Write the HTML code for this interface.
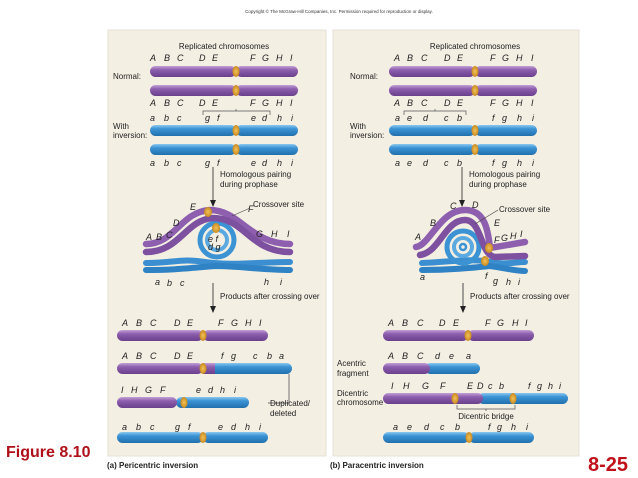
<!DOCTYPE html>
<html><head><meta charset="utf-8"><style>
html,body{margin:0;padding:0;background:#fff;}
svg{display:block;}
text{font-family:"Liberation Sans",sans-serif;}
.l{font-size:9px;font-style:italic;fill:#222;}
.t{font-size:8px;fill:#222;}
</style></head><body>
<svg width="638" height="478" viewBox="0 0 638 478" xmlns="http://www.w3.org/2000/svg">
<defs>
<linearGradient id="p" x1="0" y1="0" x2="0" y2="1"><stop offset="0" stop-color="#c3a0d6"/><stop offset="0.35" stop-color="#8d5fae"/><stop offset="1" stop-color="#6a3f8c"/></linearGradient>
<linearGradient id="b" x1="0" y1="0" x2="0" y2="1"><stop offset="0" stop-color="#8cc8f0"/><stop offset="0.35" stop-color="#3b93d4"/><stop offset="1" stop-color="#2170ad"/></linearGradient>
<radialGradient id="o"><stop offset="0" stop-color="#f2c25a"/><stop offset="1" stop-color="#c98a1e"/></radialGradient>
</defs>
<text x="339" y="13" font-size="4.5" text-anchor="middle" fill="#333">Copyright © The McGraw-Hill Companies, Inc. Permission required for reproduction or display.</text>
<rect x="108" y="30" width="218" height="426" fill="#f4efe3" stroke="#e6e0d4"/>
<rect x="333" y="30" width="246" height="426" fill="#f4efe3" stroke="#e6e0d4"/>

<!-- LEFT TOP -->
<text class="t" x="224" y="49" text-anchor="middle">Replicated chromosomes</text>
<text class="l" x="150" y="61">A</text><text class="l" x="164" y="61">B</text><text class="l" x="177" y="61">C</text><text class="l" x="199" y="61">D</text><text class="l" x="212" y="61">E</text><text class="l" x="250" y="61">F</text><text class="l" x="262" y="61">G</text><text class="l" x="276" y="61">H</text><text class="l" x="290" y="61">I</text>
<text class="t" x="113" y="79">Normal:</text>
<g><rect x="150" y="66" width="86" height="11" rx="5.5" fill="url(#p)"/><rect x="236" y="66" width="62" height="11" rx="5.5" fill="url(#p)"/><ellipse cx="236" cy="71.5" rx="3.5" ry="5.5" fill="url(#o)"/></g>
<g><rect x="150" y="85" width="86" height="11" rx="5.5" fill="url(#p)"/><rect x="236" y="85" width="62" height="11" rx="5.5" fill="url(#p)"/><ellipse cx="236" cy="90.5" rx="3.5" ry="5.5" fill="url(#o)"/></g>
<text class="l" x="150" y="106">A</text><text class="l" x="164" y="106">B</text><text class="l" x="177" y="106">C</text><text class="l" x="199" y="106">D</text><text class="l" x="212" y="106">E</text><text class="l" x="250" y="106">F</text><text class="l" x="262" y="106">G</text><text class="l" x="276" y="106">H</text><text class="l" x="290" y="106">I</text>
<path d="M203 115 V111 H270 V115 M236 111 V109" fill="none" stroke="#555" stroke-width="0.7"/>
<text class="l" x="150" y="121">a</text><text class="l" x="164" y="121">b</text><text class="l" x="177" y="121">c</text><text class="l" x="205" y="121">g</text><text class="l" x="217" y="121">f</text><text class="l" x="251" y="121">e</text><text class="l" x="262" y="121">d</text><text class="l" x="277" y="121">h</text><text class="l" x="291" y="121">i</text>
<text class="t" x="113" y="129">With</text><text class="t" x="113" y="138">inversion:</text>
<g><rect x="150" y="125" width="86" height="11" rx="5.5" fill="url(#b)"/><rect x="236" y="125" width="62" height="11" rx="5.5" fill="url(#b)"/><ellipse cx="236" cy="130.5" rx="3.5" ry="5.5" fill="url(#o)"/></g>
<g><rect x="150" y="144" width="86" height="11" rx="5.5" fill="url(#b)"/><rect x="236" y="144" width="62" height="11" rx="5.5" fill="url(#b)"/><ellipse cx="236" cy="149.5" rx="3.5" ry="5.5" fill="url(#o)"/></g>
<text class="l" x="150" y="166">a</text><text class="l" x="164" y="166">b</text><text class="l" x="177" y="166">c</text><text class="l" x="205" y="166">g</text><text class="l" x="217" y="166">f</text><text class="l" x="251" y="166">e</text><text class="l" x="262" y="166">d</text><text class="l" x="277" y="166">h</text><text class="l" x="291" y="166">i</text>
<line x1="213" y1="167" x2="213" y2="201" stroke="#222" stroke-width="0.8"/><path d="M210 200 L216 200 L213 207 Z" fill="#222"/>
<text class="t" x="220" y="177">Homologous pairing</text><text class="t" x="220" y="187">during prophase</text>

<!-- LEFT LOOP -->
<g fill="none" stroke-linecap="round">
<path d="M146 263 C175 263 180 258 205 262 C230 266 260 262 290 262" stroke="#3b8fd0" stroke-width="6"/>
<path d="M146 270 C175 270 190 268 215 266 C240 266 260 270 290 270" stroke="#2f82c4" stroke-width="6"/>
<circle cx="217" cy="240" r="17" stroke="#3b93d4" stroke-width="5"/>
<circle cx="217" cy="240" r="10" stroke="#5aa9e0" stroke-width="4"/>
<path d="M146 244 C175 244 180 212 210 210 C240 210 250 244 290 244" stroke="#8d5fae" stroke-width="6.5"/>
<path d="M146 252 C180 252 185 220 213 218 C245 218 250 252 290 252" stroke="#7e50a0" stroke-width="6.5"/>
</g>
<ellipse cx="208" cy="212" rx="4" ry="5" fill="url(#o)"/><ellipse cx="216" cy="228" rx="4" ry="5" fill="url(#o)"/>
<text class="l" x="190" y="210">E</text><text class="l" x="248" y="212">F</text><text class="l" x="173" y="226">D</text>
<text class="l" x="146" y="240">A</text><text class="l" x="156" y="240">B</text><text class="l" x="166" y="238">C</text>
<text class="l" x="256" y="237">G</text><text class="l" x="271" y="237">H</text><text class="l" x="287" y="237">I</text>
<text class="l" x="208" y="242" font-size="7">e f</text><text class="l" x="208" y="250" font-size="7">d g</text>
<text class="l" x="155" y="285">a</text><text class="l" x="167" y="286">b</text><text class="l" x="180" y="286">c</text><text class="l" x="264" y="285">h</text><text class="l" x="280" y="285">i</text>
<line x1="250" y1="208" x2="232" y2="216" stroke="#444" stroke-width="0.6"/>
<text class="t" x="253" y="207">Crossover site</text>

<line x1="213" y1="283" x2="213" y2="307" stroke="#222" stroke-width="0.8"/><path d="M210 306 L216 306 L213 313 Z" fill="#222"/>
<text class="t" x="220" y="299">Products after crossing over</text>

<!-- LEFT BOTTOM -->
<text class="l" x="122" y="326">A</text><text class="l" x="136" y="326">B</text><text class="l" x="150" y="326">C</text><text class="l" x="174" y="326">D</text><text class="l" x="187" y="326">E</text><text class="l" x="218" y="326">F</text><text class="l" x="231" y="326">G</text><text class="l" x="245" y="326">H</text><text class="l" x="259" y="326">I</text>
<g><rect x="117" y="330" width="86" height="11" rx="5.5" fill="url(#p)"/><rect x="203" y="330" width="65" height="11" rx="5.5" fill="url(#p)"/><ellipse cx="203" cy="335.5" rx="3.5" ry="5.5" fill="url(#o)"/></g>
<text class="l" x="122" y="359">A</text><text class="l" x="136" y="359">B</text><text class="l" x="150" y="359">C</text><text class="l" x="174" y="359">D</text><text class="l" x="187" y="359">E</text><text class="l" x="221" y="359">f</text><text class="l" x="231" y="359">g</text><text class="l" x="253" y="359">c</text><text class="l" x="267" y="359">b</text><text class="l" x="279" y="359">a</text>
<g><rect x="210" y="363" width="82" height="11" rx="5.5" fill="url(#b)"/><rect x="117" y="363" width="86" height="11" rx="5.5" fill="url(#p)"/><rect x="203" y="363" width="12" height="11" fill="url(#p)"/><ellipse cx="203" cy="368.5" rx="3.5" ry="5.5" fill="url(#o)"/></g>
<text class="l" x="121" y="393">I</text><text class="l" x="131" y="393">H</text><text class="l" x="145" y="393">G</text><text class="l" x="160" y="393">F</text><text class="l" x="196" y="393">e</text><text class="l" x="208" y="393">d</text><text class="l" x="220" y="393">h</text><text class="l" x="234" y="393">i</text>
<g><rect x="176" y="397" width="73" height="11" rx="5.5" fill="url(#b)"/><rect x="117" y="397" width="60" height="11" rx="5.5" fill="url(#p)"/><ellipse cx="184" cy="402.5" rx="3.5" ry="5.5" fill="url(#o)"/></g>
<path d="M289 374 V403 H268" fill="none" stroke="#444" stroke-width="0.7"/>
<text class="t" x="270" y="406">Duplicated/</text><text class="t" x="270" y="416">deleted</text>
<text class="l" x="122" y="430">a</text><text class="l" x="136" y="430">b</text><text class="l" x="150" y="430">c</text><text class="l" x="175" y="430">g</text><text class="l" x="188" y="430">f</text><text class="l" x="218" y="430">e</text><text class="l" x="231" y="430">d</text><text class="l" x="245" y="430">h</text><text class="l" x="259" y="430">i</text>
<g><rect x="117" y="432" width="86" height="11" rx="5.5" fill="url(#b)"/><rect x="203" y="432" width="65" height="11" rx="5.5" fill="url(#b)"/><ellipse cx="203" cy="437.5" rx="3.5" ry="5.5" fill="url(#o)"/></g>
<text x="107" y="468" font-size="8" font-weight="bold" fill="#222">(a) Pericentric inversion</text>

<!-- RIGHT TOP -->
<text class="t" x="475" y="49" text-anchor="middle">Replicated chromosomes</text>
<text class="l" x="394" y="61">A</text><text class="l" x="407" y="61">B</text><text class="l" x="421" y="61">C</text><text class="l" x="444" y="61">D</text><text class="l" x="457" y="61">E</text><text class="l" x="490" y="61">F</text><text class="l" x="502" y="61">G</text><text class="l" x="516" y="61">H</text><text class="l" x="531" y="61">I</text>
<text class="t" x="350" y="79">Normal:</text>
<g><rect x="389" y="66" width="86" height="11" rx="5.5" fill="url(#p)"/><rect x="475" y="66" width="62" height="11" rx="5.5" fill="url(#p)"/><ellipse cx="475" cy="71.5" rx="3.5" ry="5.5" fill="url(#o)"/></g>
<g><rect x="389" y="85" width="86" height="11" rx="5.5" fill="url(#p)"/><rect x="475" y="85" width="62" height="11" rx="5.5" fill="url(#p)"/><ellipse cx="475" cy="90.5" rx="3.5" ry="5.5" fill="url(#o)"/></g>
<text class="l" x="394" y="106">A</text><text class="l" x="407" y="106">B</text><text class="l" x="421" y="106">C</text><text class="l" x="444" y="106">D</text><text class="l" x="457" y="106">E</text><text class="l" x="490" y="106">F</text><text class="l" x="502" y="106">G</text><text class="l" x="516" y="106">H</text><text class="l" x="531" y="106">I</text>
<path d="M404 115 V111 H466 V115 M435 111 V109" fill="none" stroke="#555" stroke-width="0.7"/>
<text class="l" x="395" y="121">a</text><text class="l" x="407" y="121">e</text><text class="l" x="423" y="121">d</text><text class="l" x="444" y="121">c</text><text class="l" x="457" y="121">b</text><text class="l" x="492" y="121">f</text><text class="l" x="502" y="121">g</text><text class="l" x="517" y="121">h</text><text class="l" x="532" y="121">i</text>
<text class="t" x="350" y="129">With</text><text class="t" x="350" y="138">inversion:</text>
<g><rect x="389" y="125" width="86" height="11" rx="5.5" fill="url(#b)"/><rect x="475" y="125" width="62" height="11" rx="5.5" fill="url(#b)"/><ellipse cx="475" cy="130.5" rx="3.5" ry="5.5" fill="url(#o)"/></g>
<g><rect x="389" y="144" width="86" height="11" rx="5.5" fill="url(#b)"/><rect x="475" y="144" width="62" height="11" rx="5.5" fill="url(#b)"/><ellipse cx="475" cy="149.5" rx="3.5" ry="5.5" fill="url(#o)"/></g>
<text class="l" x="395" y="166">a</text><text class="l" x="407" y="166">e</text><text class="l" x="423" y="166">d</text><text class="l" x="444" y="166">c</text><text class="l" x="457" y="166">b</text><text class="l" x="492" y="166">f</text><text class="l" x="502" y="166">g</text><text class="l" x="517" y="166">h</text><text class="l" x="532" y="166">i</text>
<line x1="462" y1="167" x2="462" y2="201" stroke="#222" stroke-width="0.8"/><path d="M459 200 L465 200 L462 207 Z" fill="#222"/>
<text class="t" x="469" y="177">Homologous pairing</text><text class="t" x="469" y="187">during prophase</text>

<!-- RIGHT LOOP -->
<g fill="none" stroke-linecap="round">
<path d="M422 263 C450 262 470 258 490 262 C505 265 515 262 525 262" stroke="#3b8fd0" stroke-width="6"/>
<path d="M422 270 C450 270 470 268 490 266 C505 268 515 271 525 271" stroke="#2f82c4" stroke-width="6"/>
<circle cx="463" cy="247" r="16" stroke="#3b93d4" stroke-width="5"/>
<circle cx="463" cy="247" r="9" stroke="#5aa9e0" stroke-width="4"/>
<circle cx="463" cy="247" r="3" stroke="#3b93d4" stroke-width="2.5"/>
<path d="M416 247 C430 245 440 210 465 210 C485 210 488 230 490 248 L525 242" stroke="#8d5fae" stroke-width="6.5"/>
<path d="M420 255 C440 252 445 220 465 220 C482 220 480 255 495 257 L525 256" stroke="#7e50a0" stroke-width="6.5"/>
</g>
<ellipse cx="489" cy="248" rx="4" ry="5" fill="url(#o)"/><ellipse cx="485" cy="261" rx="4" ry="5" fill="url(#o)"/>
<text class="l" x="450" y="209">C</text><text class="l" x="472" y="208">D</text><text class="l" x="430" y="226">B</text><text class="l" x="415" y="240">A</text><text class="l" x="494" y="226">E</text>
<text class="l" x="494" y="243">F</text><text class="l" x="501" y="241">G</text><text class="l" x="510" y="239">H</text><text class="l" x="520" y="237">I</text>
<text class="l" x="420" y="280">a</text><text class="l" x="485" y="279">f</text><text class="l" x="493" y="284">g</text><text class="l" x="506" y="285">h</text><text class="l" x="518" y="285">i</text>
<line x1="498" y1="210" x2="475" y2="224" stroke="#444" stroke-width="0.6"/>
<text class="t" x="499" y="212">Crossover site</text>

<line x1="463" y1="283" x2="463" y2="307" stroke="#222" stroke-width="0.8"/><path d="M460 306 L466 306 L463 313 Z" fill="#222"/>
<text class="t" x="470" y="299">Products after crossing over</text>

<!-- RIGHT BOTTOM -->
<text class="l" x="388" y="326">A</text><text class="l" x="402" y="326">B</text><text class="l" x="417" y="326">C</text><text class="l" x="439" y="326">D</text><text class="l" x="453" y="326">E</text><text class="l" x="485" y="326">F</text><text class="l" x="497" y="326">G</text><text class="l" x="512" y="326">H</text><text class="l" x="525" y="326">I</text>
<g><rect x="383" y="330" width="85" height="11" rx="5.5" fill="url(#p)"/><rect x="468" y="330" width="66" height="11" rx="5.5" fill="url(#p)"/><ellipse cx="468" cy="335.5" rx="3.5" ry="5.5" fill="url(#o)"/></g>
<text class="l" x="388" y="359">A</text><text class="l" x="402" y="359">B</text><text class="l" x="417" y="359">C</text><text class="l" x="435" y="359">d</text><text class="l" x="449" y="359">e</text><text class="l" x="466" y="359">a</text>
<text class="t" x="337" y="366">Acentric</text><text class="t" x="337" y="376">fragment</text>
<g><rect x="425" y="363" width="55" height="11" rx="5.5" fill="url(#b)"/><rect x="383" y="363" width="47" height="11" rx="5.5" fill="url(#p)"/></g>
<text class="l" x="391" y="389">I</text><text class="l" x="403" y="389">H</text><text class="l" x="422" y="389">G</text><text class="l" x="440" y="389">F</text><text class="l" x="467" y="389">E</text><text class="l" x="477" y="389">D</text><text class="l" x="488" y="389">c</text><text class="l" x="499" y="389">b</text><text class="l" x="528" y="389">f</text><text class="l" x="537" y="389">g</text><text class="l" x="548" y="389">h</text><text class="l" x="559" y="389">i</text>
<text class="t" x="337" y="396">Dicentric</text><text class="t" x="337" y="405">chromosome</text>
<g><rect x="478" y="393" width="90" height="11" rx="5.5" fill="url(#b)"/><rect x="383" y="393" width="100" height="11" rx="5.5" fill="url(#p)"/><ellipse cx="455" cy="398.5" rx="3.5" ry="5.5" fill="url(#o)"/><ellipse cx="513" cy="398.5" rx="3.5" ry="5.5" fill="url(#o)"/></g>
<path d="M457 405 V409 H515 V405 M486 409 V411" fill="none" stroke="#555" stroke-width="0.7"/>
<text class="t" x="486" y="419" text-anchor="middle">Dicentric bridge</text>
<text class="l" x="393" y="430">a</text><text class="l" x="407" y="430">e</text><text class="l" x="424" y="430">d</text><text class="l" x="440" y="430">c</text><text class="l" x="455" y="430">b</text><text class="l" x="488" y="430">f</text><text class="l" x="497" y="430">g</text><text class="l" x="511" y="430">h</text><text class="l" x="526" y="430">i</text>
<g><rect x="383" y="432" width="86" height="11" rx="5.5" fill="url(#b)"/><rect x="469" y="432" width="65" height="11" rx="5.5" fill="url(#b)"/><ellipse cx="469" cy="437.5" rx="3.5" ry="5.5" fill="url(#o)"/></g>
<text x="330" y="468" font-size="8" font-weight="bold" fill="#222">(b) Paracentric inversion</text>

<text x="6" y="457" font-family="Liberation Serif,serif" font-size="16" font-weight="bold" fill="#b0101a">Figure 8.10</text>
<text x="588" y="471" font-size="20" font-weight="bold" fill="#c0101a">8-25</text>
</svg>
</body></html>
